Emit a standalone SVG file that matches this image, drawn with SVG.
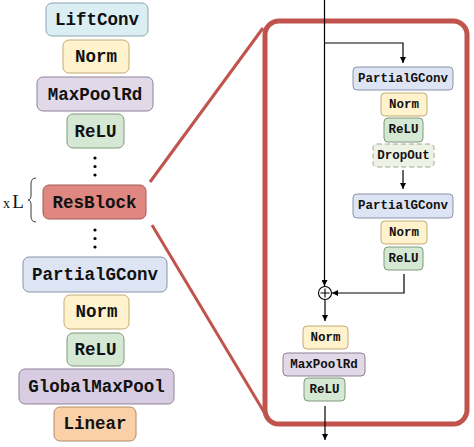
<svg xmlns="http://www.w3.org/2000/svg" width="474" height="447" viewBox="0 0 474 447">
<style>
  text { font-family: "Liberation Mono", "DejaVu Sans Mono", monospace; font-weight: bold; fill: #111; text-anchor: middle; dominant-baseline: central; }
  .big { font-size: 17.5px; }
  .sm { font-size: 12.5px; }
  .node { stroke-width: 1; }
  .lift { fill: #dbeef4; stroke: #8aa7b0; }
  .norm { fill: #fff2cc; stroke: #c2ab74; }
  .pool { fill: #e1d8e8; stroke: #8f8096; }
  .gpool { fill: #d8cce3; stroke: #8f8096; }
  .relu { fill: #d5e8d4; stroke: #7f9a7a; }
  .res { fill: #df8780; stroke: #a05a55; }
  .pgc { fill: #dde4f4; stroke: #8a93a8; }
  .lin { fill: #fad0a8; stroke: #b48a68; }
  .drop { fill: #eef2e4; stroke: #a0a898; stroke-dasharray: 5 3; }
  .conn { fill: none; stroke: #000; stroke-width: 1.2; }
  .red { fill: none; stroke: #c0534b; }
  .frame { stroke-width: 5; }
  .ray { stroke-width: 3; }
  .math { font-family: "Liberation Serif", "DejaVu Serif", serif; font-weight: normal; dominant-baseline: auto; }
</style>
<defs>
  <marker id="arr" viewBox="0 0 10 10" refX="10" refY="5" markerWidth="6" markerHeight="6" orient="auto" markerUnits="userSpaceOnUse">
    <path d="M0,0 L10,5 L0,10 z" fill="#000"/>
  </marker>
</defs>
<rect width="474" height="447" fill="#fff"/>

<!-- left column -->
<g id="n-liftconv"><rect class="node lift" x="46" y="3" width="102" height="33" rx="6"/><text class="big" x="97" y="20">LiftConv</text></g>
<g id="n-norm1"><rect class="node norm" x="63" y="40" width="66" height="33" rx="6"/><text class="big" x="96" y="57">Norm</text></g>
<g id="n-maxpool1"><rect class="node pool" x="37" y="77" width="116" height="34" rx="6"/><text class="big" x="95" y="94.5">MaxPoolRd</text></g>
<g id="n-relu1"><rect class="node relu" x="67" y="114" width="57" height="34" rx="6"/><text class="big" x="95.5" y="131.5">ReLU</text></g>
<g id="dots1" fill="#000"><circle cx="95" cy="158" r="1.6"/><circle cx="95" cy="166.5" r="1.6"/><circle cx="95" cy="175" r="1.6"/></g>
<g id="n-resblock"><rect class="node res" x="43" y="185" width="103" height="34" rx="6"/><text class="big" x="94.5" y="202.5">ResBlock</text></g>
<g id="repeat-label">
  <path d="M36,178 Q31,178 31,184 L31,195 Q31,200 28,200 Q31,200 31,205 L31,216 Q31,222 36,222" fill="none" stroke="#222" stroke-width="0.9"/>
  <text class="math" x="6.5" y="208" style="font-size:14px">x</text>
  <text class="math" x="18" y="208" style="font-size:19px">L</text>
</g>
<g id="dots2" fill="#000"><circle cx="95" cy="230" r="1.6"/><circle cx="95" cy="238.5" r="1.6"/><circle cx="95" cy="247" r="1.6"/></g>
<g id="n-pgc"><rect class="node pgc" x="23" y="257" width="144" height="35" rx="6"/><text class="big" x="95" y="274.5">PartialGConv</text></g>
<g id="n-norm2"><rect class="node norm" x="64" y="295" width="65" height="34" rx="6"/><text class="big" x="96.5" y="312">Norm</text></g>
<g id="n-relu2"><rect class="node relu" x="67" y="333" width="57" height="33" rx="6"/><text class="big" x="95.5" y="349.5">ReLU</text></g>
<g id="n-globalmaxpool"><rect class="node gpool" x="19" y="369" width="155" height="35" rx="6"/><text class="big" x="96.5" y="386.5">GlobalMaxPool</text></g>
<g id="n-linear"><rect class="node lin" x="54" y="407" width="82" height="34" rx="6"/><text class="big" x="95" y="424">Linear</text></g>

<!-- zoom panel -->
<g id="panel">
  <rect class="red frame" x="265" y="21" width="202" height="403" rx="14"/>
  <path class="red ray" d="M150,182 L263,28"/>
  <path class="red ray" d="M152,225 L264,412"/>
</g>

<!-- right column -->
<g id="r-pgc1"><rect class="node pgc" x="353" y="67" width="100" height="23" rx="4"/><text class="sm" x="403" y="78.5">PartialGConv</text></g>
<g id="r-norm1"><rect class="node norm" x="381" y="93" width="46" height="23" rx="4"/><text class="sm" x="404" y="104.5">Norm</text></g>
<g id="r-relu1"><rect class="node relu" x="384" y="118" width="39" height="24" rx="4"/><text class="sm" x="403.5" y="130">ReLU</text></g>
<g id="r-dropout"><rect class="node drop" x="373" y="144" width="61" height="23" rx="4"/><text class="sm" x="403.5" y="155.5">DropOut</text></g>
<g id="r-pgc2"><rect class="node pgc" x="353" y="194" width="100" height="24" rx="4"/><text class="sm" x="403" y="206">PartialGConv</text></g>
<g id="r-norm2"><rect class="node norm" x="381" y="221" width="46" height="23" rx="4"/><text class="sm" x="404" y="232.5">Norm</text></g>
<g id="r-relu2"><rect class="node relu" x="384" y="247" width="39" height="23" rx="4"/><text class="sm" x="403.5" y="258.5">ReLU</text></g>
<g id="r-plus"><circle cx="325" cy="293" r="6.5" fill="#fff" stroke="#000" stroke-width="1.1"/><path d="M320.5,293 H329.5 M325,288.5 V297.5" stroke="#000" stroke-width="1.1"/></g>
<g id="r-norm3"><rect class="node norm" x="303" y="326" width="45" height="23" rx="4"/><text class="sm" x="325.5" y="337.5">Norm</text></g>
<g id="r-maxpool3"><rect class="node pool" x="283" y="353" width="82" height="23" rx="4"/><text class="sm" x="324" y="364.5">MaxPoolRd</text></g>
<g id="r-relu3"><rect class="node relu" x="304" y="378" width="41" height="23" rx="4"/><text class="sm" x="324.5" y="389.5">ReLU</text></g>

<!-- connectors -->
<g id="connectors">
  <path class="conn" d="M324.5,0 V286" marker-end="url(#arr)"/>
  <path class="conn" d="M324.5,43 H403 V63" marker-end="url(#arr)"/>
  <path class="conn" d="M403,170 V189" marker-end="url(#arr)"/>
  <path class="conn" d="M404,274 V293 H332" marker-end="url(#arr)"/>
  <path class="conn" d="M325,300 V321" marker-end="url(#arr)"/>
  <path class="conn" d="M325,406 V440" marker-end="url(#arr)"/>
</g>
</svg>
